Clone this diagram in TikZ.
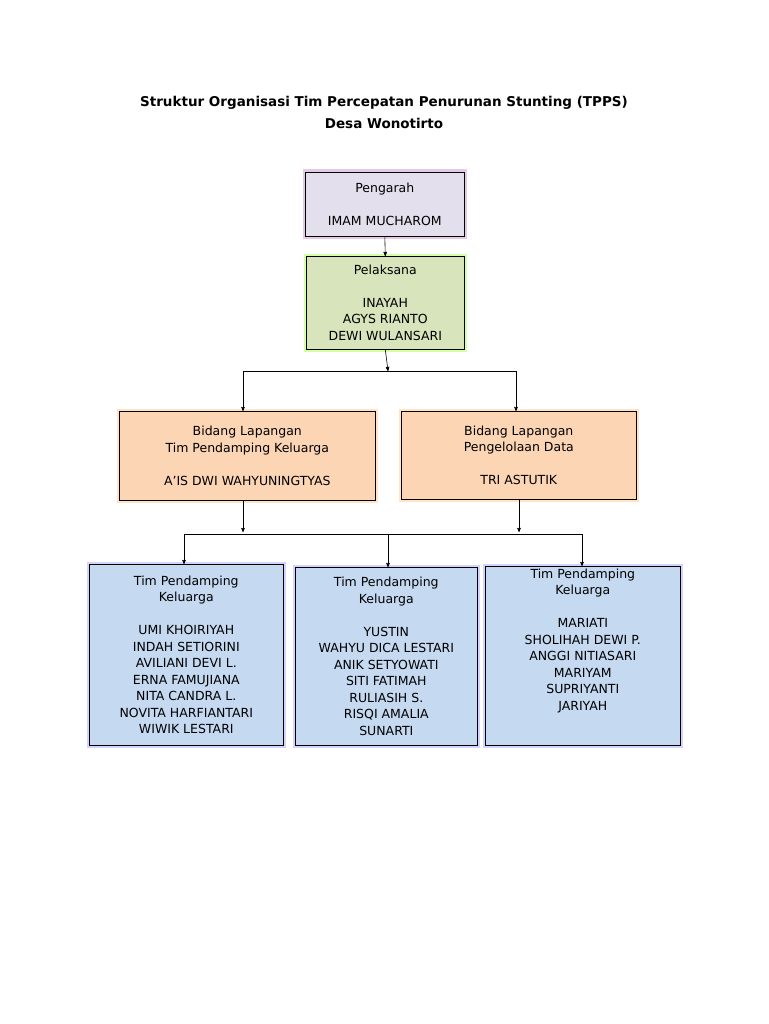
\documentclass[tikz,border=0pt]{standalone}
\usepackage{fontspec}
\setmainfont{DejaVu Sans}
\usetikzlibrary{arrows,positioning,calc}
\definecolor{ungu}{HTML}{E4DFEC}
\definecolor{hijau}{HTML}{D8E4BC}
\definecolor{jingga}{HTML}{FCD5B4}
\definecolor{biru}{HTML}{C5D9F1}

\begin{document}
\begin{tikzpicture}[x=1pt,y=-1pt,->,>=stealth',semithick,
    every node/.style={font=\fontsize{12.5}{16.5}\selectfont,align=center},
    box/.style={draw=black,inner sep=0pt,anchor=north west},
    glow/.style={line width=5pt,opacity=0.35}]
    \useasboundingbox (0,0) rectangle (768,1024);

    \node[font=\fontsize{13.5}{22}\selectfont\bfseries] (judul) at (384,112)
    {Struktur Organisasi Tim Percepatan Penurunan Stunting (TPPS)\\Desa Wonotirto};

    % glow behind the boxes
    \draw[-,glow,draw=violet!60] (305,172) rectangle (464,236);
    \draw[-,glow,draw=green!50!yellow] (306,256) rectangle (464,349);
    \draw[-,glow,draw=orange!60] (119,411) rectangle (375,500);
    \draw[-,glow,draw=orange!60] (401,411) rectangle (636,499);
    \draw[-,glow,draw=blue!50] (89,564) rectangle (283,745);
    \draw[-,glow,draw=blue!50] (295,567) rectangle (477,745);
    \draw[-,glow,draw=blue!50] (485,566) rectangle (680,745);

    \node[box,fill=ungu,minimum width=159,minimum height=64] (P) at (305,172)
    {Pengarah\\[16.5pt]IMAM MUCHAROM};
    \node[box,fill=hijau,minimum width=158,minimum height=93] (L) at (306,256)
    {Pelaksana\\[16.5pt]INAYAH\\AGYS RIANTO\\DEWI WULANSARI};
    \node[box,fill=jingga,minimum width=256,minimum height=89] (B1) at (119,411)
    {Bidang Lapangan\\Tim Pendamping Keluarga\\[16.5pt]A’IS DWI WAHYUNINGTYAS};
    \node[box,fill=jingga,minimum width=235,minimum height=88] (B2) at (401,411)
    {Bidang Lapangan\\Pengelolaan Data\\[16.5pt]TRI ASTUTIK};
    \node[box,fill=biru,minimum width=194,minimum height=181] (T1) at (89,564)
    {Tim Pendamping\\Keluarga\\[16.5pt]UMI KHOIRIYAH\\INDAH SETIORINI\\AVILIANI DEVI L.\\ERNA FAMUJIANA\\NITA CANDRA L.\\NOVITA HARFIANTARI\\WIWIK LESTARI};
    \node[box,fill=biru,minimum width=182,minimum height=178] (T2) at (295,567)
    {Tim Pendamping\\Keluarga\\[16.5pt]YUSTIN\\WAHYU DICA LESTARI\\ANIK SETYOWATI\\SITI FATIMAH\\RULIASIH S.\\RISQI AMALIA\\SUNARTI};
    \node[box,fill=biru,minimum width=195,minimum height=179] (T3) at (485,566)
    {Tim Pendamping\\Keluarga\\[16.5pt]MARIATI\\SHOLIHAH DEWI P.\\ANGGI NITIASARI\\MARIYAM\\SUPRIYANTI\\JARIYAH\\[16.5pt]};

    \coordinate (j1) at (388,371);
    \coordinate (j1a) at (243,371);
    \coordinate (j1b) at (516,371);
    \coordinate (j2a) at (184,534);
    \coordinate (j2b) at (582,534);

    \draw (P.south) -- (L.north);
    \draw (L.south) -- (j1);
    \draw[-] (j1a) -- (j1b);
    \draw (j1a) -- (j1a |- B1.north);
    \draw (j1b) -- (j1b |- B2.north);
    \draw (B1.south -| j1a) -- (243,532);
    \draw (B2.south -| 519,0) -- (519,532);
    \draw[-,thick] (j2a) -- (j2b);
    \draw (j2a) -- (j2a |- T1.north);
    \draw (388,534) -- (T2.north -| 388,0);
    \draw (j2b) -- (j2b |- T3.north);
\end{tikzpicture}
\end{document}
